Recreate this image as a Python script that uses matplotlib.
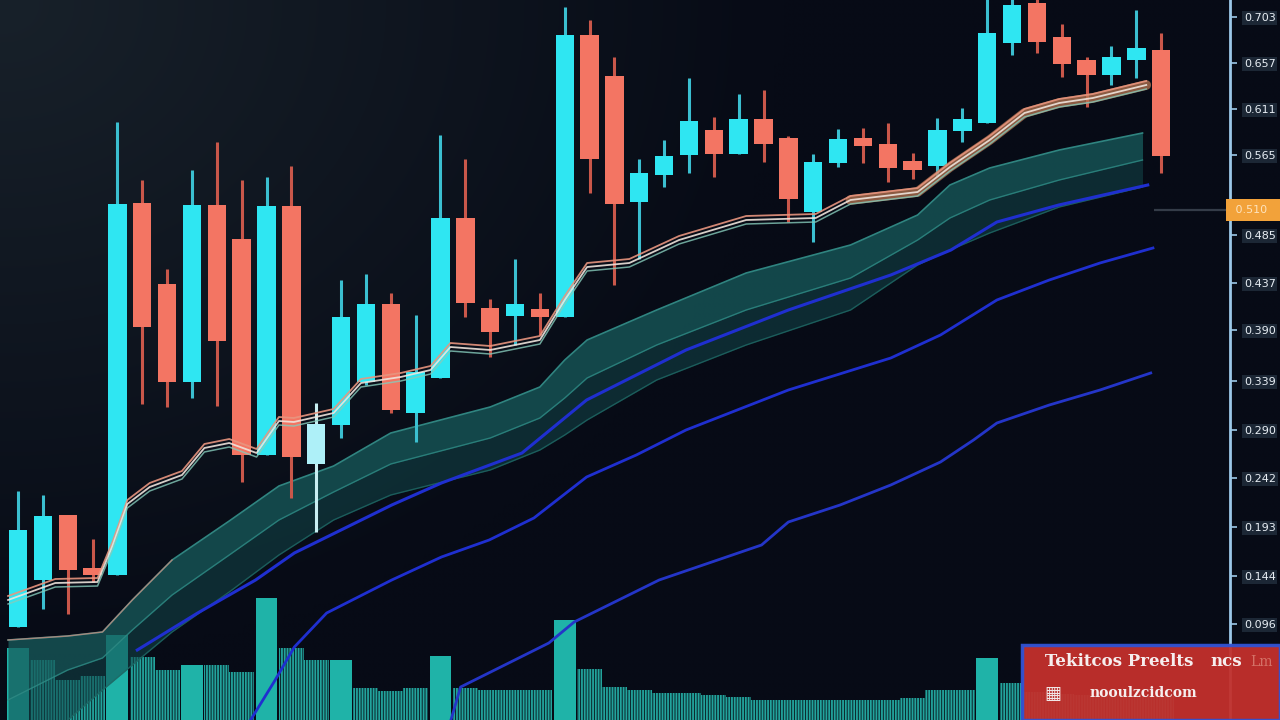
import numpy as np
import matplotlib
matplotlib.use("Agg")
import matplotlib.pyplot as plt
import matplotlib.transforms as mtransforms
from matplotlib.patches import Rectangle

# свечи: open, high, low, close (условные единицы цены)
opens  = [93, 140, 205, 152, 145, 517, 436, 338, 515, 481, 265, 514, 256, 295, 338, 416,
          307, 342, 502, 412, 404, 411, 403, 685, 644, 518, 545, 565, 590, 566, 601, 582,
          508, 557, 582, 576, 559, 554, 589, 597, 677, 717, 683, 660, 645, 660, 670]
highs  = [229, 225, 205, 181, 598, 540, 451, 550, 578, 540, 543, 554, 317, 440, 446, 427,
          405, 585, 561, 421, 461, 427, 713, 700, 663, 561, 580, 642, 603, 626, 630, 584,
          566, 591, 592, 597, 567, 602, 612, 725, 725, 725, 696, 663, 674, 710, 687]
lows   = [93, 111, 106, 138, 145, 316, 313, 322, 314, 238, 265, 222, 188, 282, 335, 307,
          278, 342, 403, 363, 375, 385, 403, 527, 435, 461, 533, 547, 543, 566, 558, 498,
          478, 553, 557, 538, 541, 544, 578, 597, 665, 667, 643, 613, 635, 642, 547]
closes = [190, 204, 150, 145, 516, 393, 338, 515, 379, 265, 514, 263, 296, 403, 416, 310,
          348, 502, 417, 388, 416, 403, 685, 561, 516, 547, 564, 599, 566, 601, 576, 521,
          558, 581, 574, 552, 550, 590, 601, 687, 715, 678, 656, 645, 663, 672, 564]
volume = [72, 60, 40, 44, 85, 63, 50, 55, 55, 48, 122, 72, 60, 60, 32, 29, 32, 64, 32, 30,
          30, 30, 100, 51, 33, 30, 27, 27, 25, 23, 20, 20, 20, 20, 20, 20, 22, 30, 30, 62,
          37, 28, 26, 25, 25, 24, 24]
volume_solid = [0, 4, 7, 10, 13, 17, 22, 39]
highlight = 12

# скользящая средняя
ma_x = [-0.4, 1.5, 3.2, 3.8, 4.4, 5.3, 6.6, 7.5, 8.5, 9.6, 10.5, 11.1, 12.7, 13.8, 15.4,
        16.6, 17.4, 19.0, 21.0, 22.0, 22.9, 24.6, 26.6, 29.3, 32.1, 33.5, 36.2, 37.5,
        39.1, 40.5, 41.9, 43.25, 45.4]
ma_v = [120, 137, 138, 174, 216, 233, 245, 272, 277, 267, 299, 298, 307, 337, 343,
        350, 373, 370, 380, 420, 453, 457, 480, 500, 502, 520, 528, 553,
        580, 607, 617, 622, 635]

# облако (полоса)
band_x   = [-0.4, 2.0, 3.4, 4.6, 6.2, 8.5, 10.5, 12.7, 15.0, 19.0, 21.0, 22.0, 22.9,
            25.7, 29.3, 33.5, 36.2, 37.5, 39.1, 41.9, 45.25]
band_top = [80, 84, 88, 120, 160, 199, 234, 254, 287, 313, 333, 360, 380,
            410, 447, 475, 505, 535, 552, 570, 587]
band_mid = [20, 50, 62, 90, 125, 165, 200, 228, 256, 282, 302, 322, 342,
            375, 410, 442, 480, 502, 520, 540, 560]
band_bot = [-60, 0, 30, 55, 88, 128, 165, 200, 225, 250, 270, 285, 300,
            340, 375, 410, 455, 470, 487, 513, 533]

# синие линии
blue1_x = [4.8, 7.23, 9.56, 11.12, 15.04, 17.04, 20.28, 22.88, 26.88, 31.0, 35.12, 37.54, 39.39, 41.88, 45.46]
blue1_v = [70, 107, 140, 167, 215, 237, 267, 320, 370, 410, 445, 470, 498, 515, 535]
blue2_x = [9.36, 10.35, 11.12, 12.42, 15.04, 17.04, 18.96, 20.76, 22.88, 24.88, 26.88, 31.0, 35.12,
           37.12, 39.39, 41.5, 43.54, 45.67]
blue2_v = [0, 40, 73, 107, 140, 163, 180, 202, 243, 265, 290, 330, 362, 385, 420, 440, 457, 472]
blue3_x = [17.42, 17.81, 21.36, 22.38, 25.8, 29.92, 31.0, 33.08, 35.12, 37.12, 38.45, 39.39, 41.5, 43.54, 45.58]
blue3_v = [0, 33, 77, 98, 140, 175, 198, 215, 235, 258, 280, 297, 315, 330, 347]

# шкала справа
price_ticks = [703, 657, 611, 565, 485, 437, 390, 339, 290, 242, 193, 144, 96]
last_tag = 510
box_line1 = "Tekitcos Preelts"
box_line2 = "nooulzcidcom"

fig = plt.figure(figsize=(12.8, 7.2), dpi=100)
fig.patch.set_facecolor("#070b16")

# фон с градиентом
bg = fig.add_axes([0, 0, 1, 1], zorder=-10)
yy, xx = np.mgrid[0:1:72j, 0:1:128j]
d = np.clip(1 - np.sqrt((xx / 0.6) ** 2 + (yy / 0.9) ** 2), 0, 1)
c0 = np.array([7, 11, 22]) / 255
c1 = np.array([24, 33, 42]) / 255
img = c0 + (c1 - c0) * d[..., None]
bg.imshow(img, aspect="auto", extent=[0, 1, 0, 1], origin="upper", interpolation="bicubic")
bg.axis("off")

pos = [0, 0, 1230 / 1280, 1]
axv = fig.add_axes(pos, zorder=0)
ax = fig.add_axes(pos, zorder=1, sharex=axv)
ax.patch.set_alpha(0)
axv.patch.set_alpha(0)

xmin, xmax = -0.724, 48.77
n = len(opens)
x = np.arange(n)

# объёмы
vol = np.array(volume)
solid = np.isin(x, volume_solid)
plt.rcParams["hatch.linewidth"] = 1.3
axv.bar(x[~solid], vol[~solid], width=1.0, color="#0a2228", edgecolor="#22a39c",
        hatch="||||||", linewidth=0)
axv.bar(x[solid], vol[solid], width=0.88, color="#1fb3a8", linewidth=0)
axv.set_ylim(0, 720)
axv.set_xlim(xmin, xmax)
axv.axis("off")

# облако
ax.fill_between(band_x, band_bot, band_top, color="#12464a", alpha=0.55, lw=0, zorder=1)
ax.fill_between(band_x, band_mid, band_top, color="#1b6a68", alpha=0.45, lw=0, zorder=1)
ax.plot(band_x, band_top, color="#3aa39b", lw=1.2, alpha=0.8, zorder=2)
ax.plot(band_x, band_mid, color="#2f8c86", lw=1.0, alpha=0.8, zorder=2)
ax.plot(band_x, band_bot, color="#1f6a66", lw=1.0, alpha=0.8, zorder=2)
ax.plot(band_x[:5], band_top[:5], color="#d88a7c", lw=1.0, alpha=0.7, zorder=2)

# синие линии
ax.plot(blue1_x, blue1_v, color="#1f2fd0", lw=2.2, zorder=2)
ax.plot(blue2_x, blue2_v, color="#1f2fd0", lw=2.0, zorder=2)
ax.plot(blue3_x, blue3_v, color="#2435c8", lw=2.0, zorder=2)

# свечи
o = np.array(opens); c = np.array(closes)
h = np.array(highs); l = np.array(lows)
up = c >= o
body_col = np.where(up, "#2fe6f2", "#f37563").astype(object)
wick_col = np.where(up, "#3bbfd0", "#c9574a").astype(object)
body_col[highlight] = "#aef0f8"
wick_col[highlight] = "#c8eef2"
ax.vlines(x, l, h, colors=list(wick_col), lw=2.2, zorder=3)
ax.bar(x, np.maximum(np.abs(c - o), 5), bottom=np.minimum(o, c), width=0.74,
       color=list(body_col), linewidth=0, zorder=4)

# скользящая средняя
ma_x_arr = np.array(ma_x); ma_arr = np.array(ma_v)
r = ma_x_arr >= 33
ax.plot(ma_x_arr[r], ma_arr[r], color="#b87652", lw=7, alpha=0.75, zorder=5,
        solid_capstyle="round")
ax.plot(ma_x, ma_arr + 4, color="#e8957f", lw=1.3, alpha=0.9, zorder=5)
ax.plot(ma_x, ma_arr, color="#efe4dc", lw=1.3, alpha=0.9, zorder=5)
ax.plot(ma_x, ma_arr - 4, color="#86cbbb", lw=1.1, alpha=0.8, zorder=5)

# текущая цена
ax.hlines(last_tag, 45.7, xmax, color="#343c48", lw=1.6, zorder=2)

ax.set_xlim(xmin, xmax)
ax.set_ylim(0, 720)
for s in ["top", "left", "bottom"]:
    ax.spines[s].set_visible(False)
ax.spines["right"].set_color("#9cc8e8")
ax.spines["right"].set_linewidth(2)
ax.set_xticks([])
ax.yaxis.tick_right()
ax.set_yticks(price_ticks)
ax.set_yticklabels([f"{v / 1000:.3f}" for v in price_ticks])
ax.tick_params(axis="y", colors="#9cc8e8", length=5, width=1.2, pad=5,
               labelsize=8, labelcolor="#e8eef4")
for t in ax.get_yticklabels():
    t.set_bbox(dict(boxstyle="square,pad=0.15", fc="#1c2735", ec="none"))

trans = mtransforms.blended_transform_factory(ax.transAxes, ax.transData)
ax.text(1.002, last_tag, f" {last_tag / 1000:.3f}   ", transform=trans, va="center", ha="left",
        fontsize=8, color="#fde3bd", clip_on=False,
        bbox=dict(boxstyle="square,pad=0.55", fc="#f2a23a", ec="none"), zorder=6)

# красная плашка
fig.patches.append(Rectangle((1022 / 1280, 0), 258 / 1280, 75 / 720, transform=fig.transFigure,
                             fc="#c3302c", ec="#3153d4", lw=2.5, alpha=0.95, zorder=20))
fig.text(1045 / 1280, 1 - 661 / 720, box_line1, color="#f6eeee", fontsize=12,
         family="DejaVu Serif", weight="bold", va="center", zorder=21)
fig.text(1210 / 1280, 1 - 662 / 720, "ncs", color="#f6eeee", fontsize=12,
         family="DejaVu Serif", weight="bold", va="center", zorder=21)
fig.text(1250 / 1280, 1 - 662 / 720, "Lm", color="#e8a090", fontsize=10,
         family="DejaVu Serif", va="center", alpha=0.6, zorder=21)
fig.text(1044 / 1280, 1 - 694 / 720, "▦", color="#f0e6e6", fontsize=13, va="center", zorder=21)
fig.text(1090 / 1280, 1 - 693 / 720, box_line2, color="#f6eeee", fontsize=10,
         family="DejaVu Serif", weight="bold", va="center", zorder=21)

fig.savefig("out.png", dpi=100, facecolor=fig.get_facecolor())
